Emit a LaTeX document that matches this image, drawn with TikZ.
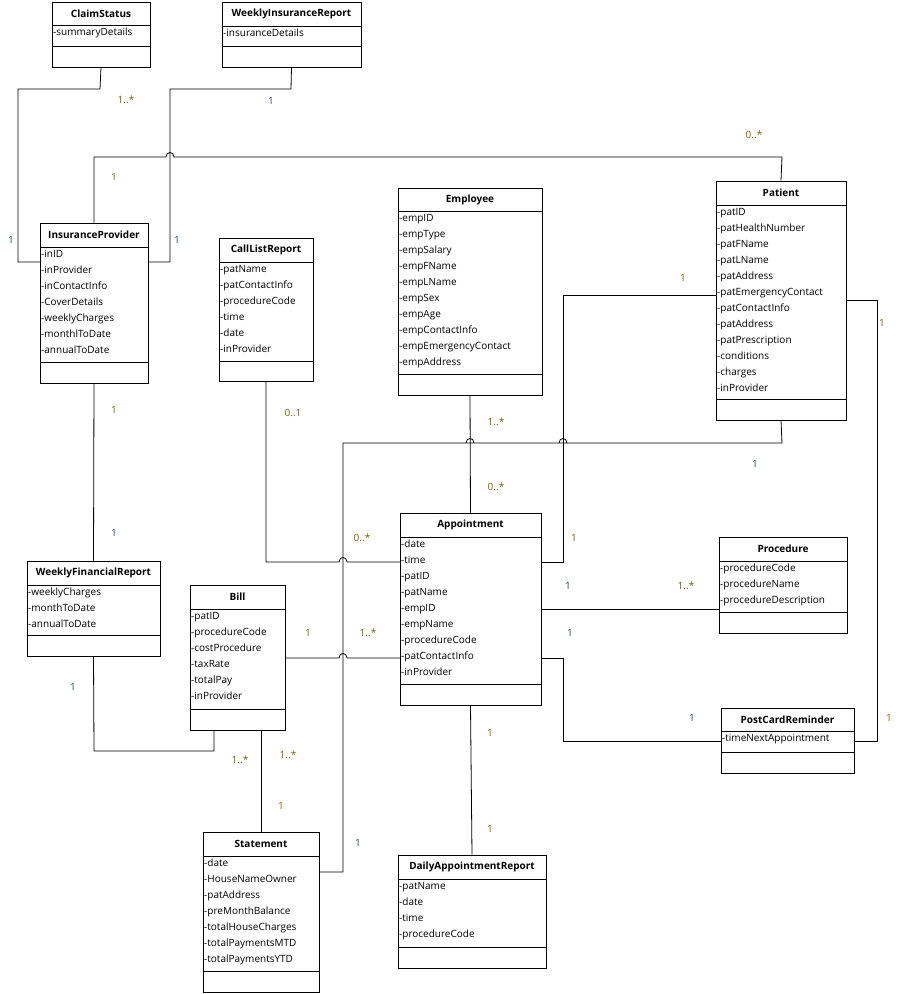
\documentclass[tikz,border=0pt]{standalone}
\usepackage{fontspec}
\setmainfont{Open Sans}
\definecolor{lbrown}{RGB}{128,96,0}
\definecolor{lblue}{RGB}{31,78,121}
\tikzset{cls/.style={draw,line width=0.9pt,inner sep=0},
  con/.style={draw,line width=0.8pt},
  mb/.style={text=lbrown,font=\fontsize{10}{12}\selectfont},
  mu/.style={text=lblue,font=\fontsize{10}{12}\selectfont}}
\newcommand\umlclass[9]{%
  \node[cls,minimum width={#4-#2},minimum height={#5-#3}] (#1) at ({(#2+#4)/2},{(#3+#5)/2}) {};
  \draw[line width=0.9pt] (#2,#6) -- (#4,#6) (#2,#7) -- (#4,#7);
  \node[font=\fontsize{10}{12}\selectfont\bfseries] (#1-t) at ({(#2+#4)/2},{(#3+#6)/2}) {#8};
  \node[anchor=north west,align=left,inner sep=0,font=\fontsize{10}{16}\selectfont] (#1-a) at ({#2+1},{#6+3}) {#9};}
\newcommand\hop[2]{-- ({#1-4},#2) .. controls ({#1-4},{#2-6}) and ({#1+4},{#2-6}) .. ({#1+4},#2)}
\begin{document}
\begin{tikzpicture}[x=1pt,y=-1pt]
\useasboundingbox[fill=white] (0,0) rectangle (900,994);
\umlclass{CS}{52}{2}{150}{67}{25}{46}{ClaimStatus}{-summaryDetails}
\umlclass{WIR}{222}{2}{361}{67}{26}{46}{WeeklyInsuranceReport}{-insuranceDetails}
\umlclass{IP}{40}{223}{148}{383}{247}{362}{InsuranceProvider}{-inID\\-inProvider\\-inContactInfo\\-CoverDetails\\-weeklyCharges\\-monthlToDate\\-annualToDate}
\umlclass{CLR}{219}{238}{313}{381}{262}{361}{CallListReport}{-patName\\-patContactInfo\\-procedureCode\\-time\\-date\\-inProvider}
\umlclass{EMP}{398}{188}{542}{395}{211}{374}{Employee}{-empID\\-empType\\-empSalary\\-empFName\\-empLName\\-empSex\\-empAge\\-empContactInfo\\-empEmergencyContact\\-empAddress}
\umlclass{PAT}{716}{181}{846}{420}{205}{399}{Patient}{-patID\\-patHealthNumber\\-patFName\\-patLName\\-patAddress\\-patEmergencyContact\\-patContactInfo\\-patAddress\\-patPrescription\\-conditions\\-charges\\-inProvider}
\umlclass{APP}{400}{513}{541}{705}{537}{684}{Appointment}{-date\\-time\\-patID\\-patName\\-empID\\-empName\\-procedureCode\\-patContactInfo\\-inProvider}
\umlclass{PROC}{719}{537}{847}{633}{561}{612}{Procedure}{-procedureCode\\-procedureName\\-procedureDescription}
\umlclass{WFR}{27}{561}{160}{656}{585}{635}{WeeklyFinancialReport}{-weeklyCharges\\-monthToDate\\-annualToDate}
\umlclass{BILL}{190}{585}{285}{730}{609}{709}{Bill}{-patID\\-procedureCode\\-costProcedure\\-taxRate\\-totalPay\\-inProvider}
\umlclass{PCR}{721}{708}{854}{773}{731}{752}{PostCardReminder}{-timeNextAppointment}
\umlclass{ST}{203}{832}{319}{992}{856}{971}{Statement}{-date\\-HouseNameOwner\\-patAddress\\-preMonthBalance\\-totalHouseCharges\\-totalPaymentsMTD\\-totalPaymentsYTD}
\umlclass{DAR}{398}{855}{546}{968}{879}{947}{DailyAppointmentReport}{-patName\\-date\\-time\\-procedureCode}
% connectors
\path[con] (CS.south) -- (100,89) -- (18,89) -- (18,262) -- (40,262);
\path[con] (WIR.south) -- (291,89) -- (170,89) -- (170,262) -- (148,262);
\path[con] (IP.north) -- (94,157) \hop{170}{157} -- (782,157) -- (PAT.north);
\path[con] (IP.south) -- (WFR.north);
\path[con] (CLR.south) -- (266,562) \hop{343}{562} -- (400,562);
\path[con] (EMP.south) -- (APP.north);
\path[con] (PAT.south) -- (782,443) \hop{563}{443}\hop{470}{443} -- (343,443) -- (343,872) -- (319,872);
\path[con] (541,562) -- (563,562) -- (563,295) -- (716,295);
\path[con] (541,609) -- (719,609);
\path[con] (541,658) -- (563,658) -- (563,741) -- (721,741);
\path[con] (854,741) -- (877,741) -- (877,300) -- (846,300);
\path[con] (285,658) \hop{343}{658} -- (400,658);
\path[con] (WFR.south) -- (94,751) -- (214,751) -- (214,730);
\path[con] (261,730) -- (261,832);
\path[con] (APP.south) -- (DAR.north);
% multiplicities
\node[mb] at (126,100) {1..*}; \node[mu] at (11,240) {1};
\node[mu] at (271,101) {1}; \node[mu] at (177,240) {1};
\node[mb] at (114,177) {1}; \node[mb] at (754,135) {0..*};
\node[mb] at (114,410) {1}; \node[mu] at (114,533) {1};
\node[mb] at (293,413) {0..1}; \node[mb] at (362,538) {0..*};
\node[mb] at (496,422) {1..*}; \node[mb] at (496,487) {0..*};
\node[mu] at (755,464) {1}; \node[mu] at (358,843) {1};
\node[mb] at (574,538) {1}; \node[mb] at (683,278) {1};
\node[mu] at (568,586) {1}; \node[mb] at (686,586) {1..*};
\node[mu] at (570,633) {1}; \node[mu] at (692,718) {1};
\node[mb] at (889,718) {1}; \node[mb] at (882,323) {1};
\node[mb] at (308,633) {1}; \node[mb] at (368,633) {1..*};
\node[mu] at (73,687) {1}; \node[mb] at (240,760) {1..*};
\node[mb] at (288,755) {1..*}; \node[mb] at (281,806) {1};
\node[mb] at (490,733) {1}; \node[mb] at (490,829) {1};
\end{tikzpicture}
\end{document}
